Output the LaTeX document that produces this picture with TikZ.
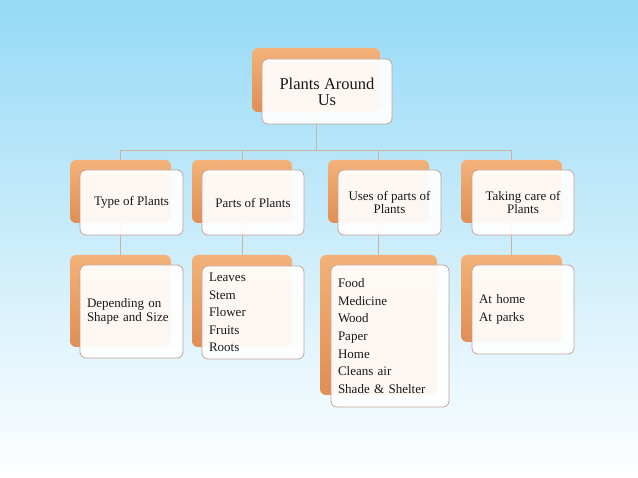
\documentclass[tikz,border=0pt]{standalone}
\usepackage{fontspec}
\setmainfont{Liberation Serif}
\definecolor{skyc}{RGB}{150,218,246}
\definecolor{midc}{RGB}{212,237,250}
\definecolor{backtop}{RGB}{243,178,120}
\definecolor{backbot}{RGB}{224,142,84}
\definecolor{edgec}{RGB}{196,163,150}
\definecolor{linec}{RGB}{200,178,162}
\pgfdeclarelayer{bg}
\pgfdeclarelayer{lines}
\pgfsetlayers{bg,lines,main}

\begin{document}
\begin{tikzpicture}[x=1pt, y=-1pt,
    back/.style = {top color=backtop, bottom color=backbot, rounded corners=6pt, inner sep=0pt},
    front/.style = {draw=edgec, line width=0.8pt, fill=white, fill opacity=0.93, text opacity=1,
                    rounded corners=6pt, inner sep=0pt,
                    align=center, text=black!90, font=\fontsize{13}{13.5}\selectfont},
    list/.style = {front, align=left, inner xsep=7pt, font=\fontsize{13}{17.6}\selectfont},
    conn/.style = {draw=linec, line width=0.8pt}]

        \begin{pgfonlayer}{bg}
            \shade[top color=skyc, middle color=midc, bottom color=white] (0,0) rectangle (638,478);
        \end{pgfonlayer}
        \useasboundingbox (0,0) rectangle (638,478);

        % root
        \node[back, minimum width=128, minimum height=64] (rootb) at (316,80) {};
        \node[front, minimum width=130, minimum height=65, font=\fontsize{16.5}{16}\selectfont] (root) at (327,91.5) {Plants Around\\Us};

        % first row
        \node[back, minimum width=101, minimum height=63] (typeb) at (120.5,191.5) {};
        \node[back, minimum width=100, minimum height=63] (partsb) at (242,191.5) {};
        \node[back, minimum width=101, minimum height=63] (usesb) at (378.5,191.5) {};
        \node[back, minimum width=101, minimum height=63] (careb) at (511.5,191.5) {};
        \node[front, minimum width=103, minimum height=65] (type) at (131.5,202.5) {Type of Plants};
        \node[front, minimum width=102, minimum height=65] (parts) at (253,202.5) {Parts of Plants};
        \node[front, minimum width=103, minimum height=65] (uses) at (389.5,202.5) {Uses of parts of\\Plants};
        \node[front, minimum width=102, minimum height=65] (care) at (523,202.5) {Taking care of\\Plants};

        % second row
        \node[back, minimum width=101, minimum height=92] (shapeb) at (120.5,301) {};
        \node[back, minimum width=100, minimum height=92] (listb) at (242,301) {};
        \node[back, minimum width=117, minimum height=140] (needb) at (378.5,325) {};
        \node[back, minimum width=101, minimum height=87] (whereb) at (511.5,298.5) {};
        \node[list, text width=89, minimum height=93, font=\fontsize{13}{13.5}\selectfont] (shape) at (131.5,311.5) {Depending on\\Shape and Size};
        \node[list, text width=88, minimum height=93] (list) at (253,312.5) {Leaves\\Stem\\Flower\\Fruits\\Roots};
        \node[list, text width=104, minimum height=142] (need) at (390,336) {Food\\Medicine\\Wood\\Paper\\Home\\Cleans air\\Shade \& Shelter};
        \node[list, text width=88, minimum height=89] (where) at (523,309.5) {At home\\At parks};

        % connectors
        \begin{pgfonlayer}{lines}
            \coordinate (bar) at (316,150);
            \draw[conn] (rootb.south) -- (bar) -| (typeb.north);
            \draw[conn] (bar) -| (partsb.north);
            \draw[conn] (bar) -| (usesb.north);
            \draw[conn] (bar) -| (careb.north);
            \draw[conn] (typeb.south) -- (shapeb.north);
            \draw[conn] (partsb.south) -- (listb.north);
            \draw[conn] (usesb.south) -- (needb.north);
            \draw[conn] (careb.south) -- (whereb.north);
        \end{pgfonlayer}
    \end{tikzpicture}
\end{document}
